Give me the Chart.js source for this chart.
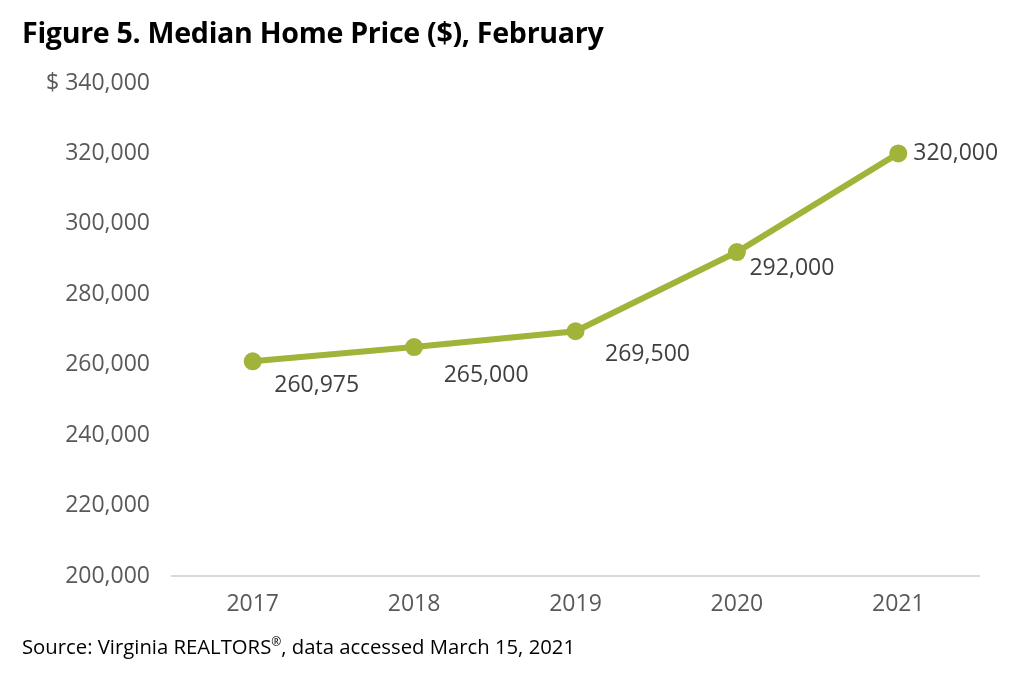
<!DOCTYPE html>
<html><head><meta charset="utf-8">
<script src="https://cdn.jsdelivr.net/npm/chart.js@4"></script>
<style>
html,body{margin:0;padding:0;background:#fff;width:1024px;height:679px;overflow:hidden;}
#wrap{position:absolute;left:0;top:0;width:1024px;height:679px;}
#title{position:absolute;left:22px;top:12px;font-family:"Open Sans";font-weight:700;font-size:28.6px;color:#000;white-space:nowrap;letter-spacing:-0.3px}
#source{position:absolute;left:22px;top:632px;font-family:"Open Sans";font-size:20.3px;color:#000;white-space:nowrap}
#source sup{font-size:12px;}
</style></head>
<body>
<div id="wrap"><canvas id="c" width="1024" height="679"></canvas></div>
<div id="title">Figure 5. Median Home Price ($), February</div>
<div id="source">Source: Virginia REALTORS<sup>®</sup>, data accessed March 15, 2021</div>
<script>
const years = ["2017","2018","2019","2020","2021"];
const prices = [260975, 265000, 269500, 292000, 320000];
const yTicks = [200000,220000,240000,260000,280000,300000,320000,340000];
const labelOffsets = [[64,24],[72,28],[72,23],[55,16],[48,0]];

const fmt = v => v.toLocaleString('en-US');
const lineColor = '#a2b33a';

const dataLabels = {
  id:'dataLabels',
  afterDatasetsDraw(chart){
    const ctx = chart.ctx;
    const meta = chart.getDatasetMeta(0);
    ctx.save();
    ctx.font = '23px "Open Sans"';
    ctx.fillStyle = '#404040';
    ctx.textBaseline = 'middle';
    meta.data.forEach((pt,i)=>{
      const [dx,dy] = labelOffsets[i];
      ctx.textAlign = i===4 ? 'left' : 'center';
      ctx.fillText(fmt(prices[i]), pt.x+dx - (i===4?33:0), pt.y+dy);
    });
    ctx.restore();
  }
};

new Chart(document.getElementById('c'),{
  type:'line',
  data:{labels:years,datasets:[{data:prices,borderColor:lineColor,backgroundColor:lineColor,
    borderWidth:6,pointRadius:9,pointBackgroundColor:lineColor,pointBorderWidth:0,tension:0}]},
  options:{
    responsive:false,animation:false,
    layout:{padding:{left:0,right:45,top:83,bottom:0}},
    plugins:{legend:{display:false},tooltip:{enabled:false}},
    scales:{
      x:{offset:true,grid:{display:false,drawTicks:false},
        border:{display:true,color:'#d9d9d9',width:2},
        ticks:{font:{family:'Open Sans',size:23},color:'#595959',padding:15},
        afterFit(s){s.height=103;}},
      y:{min:200000,max:340000,
        grid:{display:false,drawTicks:false},border:{display:false},
        afterBuildTicks(s){s.ticks = yTicks.map(v=>({value:v}));},
        ticks:{font:{family:'Open Sans',size:23},color:'#595959',padding:22,
          callback:(v)=> v===340000 ? '$ '+fmt(v) : fmt(v)},
        afterFit(s){s.width=172;}}
    }
  },
  plugins:[dataLabels]
});
</script>
</body></html>
